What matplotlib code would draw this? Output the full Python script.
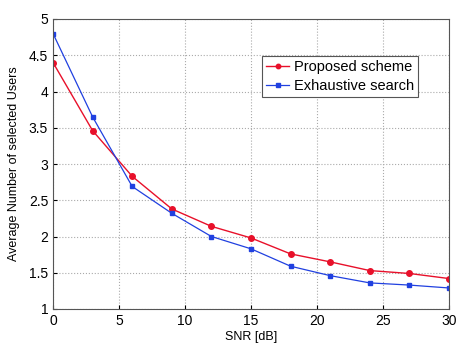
import matplotlib
matplotlib.use("Agg")
import matplotlib.pyplot as plt

plt.rcParams['font.family'] = ['Liberation Sans', 'DejaVu Sans']

snr = [0, 3, 6, 9, 12, 15, 18, 21, 24, 27, 30]
proposed = [4.40, 3.46, 2.83, 2.38, 2.14, 1.98, 1.76, 1.65, 1.53, 1.49, 1.42]
exhaustive = [4.80, 3.65, 2.69, 2.32, 2.00, 1.83, 1.59, 1.46, 1.36, 1.33, 1.29]
xticks = [0, 5, 10, 15, 20, 25, 30]
yticks = [1, 1.5, 2, 2.5, 3, 3.5, 4, 4.5, 5]

fig = plt.figure(figsize=(4.74, 3.43), dpi=100)
ax = fig.add_axes([53/474, 1 - 309/343, (449-53)/474, (309-19)/343])

ax.plot(snr, proposed, color='#e8102a', marker='o', markersize=4, linewidth=1.0, label='Proposed scheme')
ax.plot(snr, exhaustive, color='#2040e0', marker='s', markersize=3.5, linewidth=0.9, label='Exhaustive search')

ax.set_xlim(0, 30)
ax.set_ylim(1, 5)
ax.set_xticks(xticks)
ax.set_yticks(yticks)
ax.set_yticklabels([f'{v:g}' for v in yticks])
ax.tick_params(labelsize=10, direction='in', length=3)
ax.grid(True, linestyle=':', color='#aaaaaa', linewidth=0.8)
for s in ax.spines.values():
    s.set_color('#555555')

ax.set_xlabel('SNR [dB]', fontsize=9, labelpad=2)
ax.set_ylabel('Average Number of selected Users', fontsize=9, labelpad=6)

leg = ax.legend(loc='upper left', bbox_to_anchor=(0.527, 0.872), fontsize=10.5,
                fancybox=False, framealpha=1, edgecolor='#555555',
                handlelength=1.6, handletextpad=0.3, borderpad=0.3, labelspacing=0.3,
                borderaxespad=0, markerscale=0.8)
leg.get_frame().set_linewidth(0.8)

fig.savefig('out.png', dpi=100)
